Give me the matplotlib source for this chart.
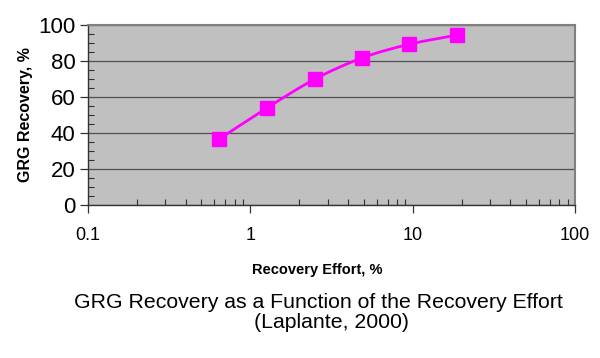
import numpy as np
import matplotlib.pyplot as plt
from matplotlib.path import Path
from matplotlib.patches import PathPatch
from matplotlib.ticker import LogLocator, NullFormatter, MultipleLocator

plt.rcParams['font.family'] = ['Liberation Sans', 'DejaVu Sans']

# data
effort = [0.64, 1.27, 2.5, 4.9, 9.5, 18.7]
recovery = [36.5, 54.0, 70.0, 81.8, 89.3, 94.4]
x_ticks = [0.1, 1, 10, 100]
x_tick_labels = ['0.1', '1', '10', '100']
y_ticks = [0, 20, 40, 60, 80, 100]


def smooth_path(xs, ys):
    # excel-style smoothed line: catmull-rom segments as cubic beziers, in log-x space
    lx = np.log10(xs)
    pts = np.column_stack([lx, ys])
    verts = [pts[0]]
    codes = [Path.MOVETO]
    n = len(pts)
    for i in range(n - 1):
        p0 = pts[max(i - 1, 0)]
        p1 = pts[i]
        p2 = pts[i + 1]
        p3 = pts[min(i + 2, n - 1)]
        c1 = p1 + (p2 - p0) / 6.0
        c2 = p2 - (p3 - p1) / 6.0
        verts += [c1, c2, p2]
        codes += [Path.CURVE4] * 3
    verts = np.array(verts)
    verts[:, 0] = 10 ** verts[:, 0]
    return Path(verts, codes)


fig = plt.figure(figsize=(6.0, 3.58), dpi=100)
ax = fig.add_axes([0.1467, 0.4274, 0.8116, 0.5026])
ax.set_facecolor('#c0c0c0')

ax.set_xscale('log')
ax.set_xlim(0.1, 100)
ax.set_ylim(0, 100)

ax.add_patch(PathPatch(smooth_path(effort, recovery), facecolor='none',
                       edgecolor='#ff00ff', lw=2, transform=ax.transData, zorder=3))
ax.plot(effort, recovery, ls='none', marker='s', ms=10,
        mec='#ff00ff', mfc='#ff00ff', zorder=4, clip_on=False)

ax.set_xticks(x_ticks)
ax.set_xticklabels(x_tick_labels)
ax.xaxis.set_minor_locator(LogLocator(base=10, subs=np.arange(2, 10)))
ax.xaxis.set_minor_formatter(NullFormatter())
ax.set_yticks(y_ticks)
ax.yaxis.set_minor_locator(MultipleLocator(5))

ax.grid(axis='y', which='major', color='#505050', lw=0.9)
ax.set_axisbelow(True)

ax.tick_params(which='major', direction='out', length=6, width=0.9,
               color='#333333', pad=4)
ax.tick_params(axis='y', which='major', labelsize=16, pad=3)
ax.tick_params(axis='x', which='major', labelsize=13, pad=10)
ax.tick_params(which='minor', direction='in', length=4, width=0.8, color='#333333')

for side in ['left', 'bottom']:
    ax.spines[side].set_color('#333333')
    ax.spines[side].set_linewidth(1.0)
for side in ['top', 'right']:
    ax.spines[side].set_color('#808080')
    ax.spines[side].set_linewidth(1.5)

ax.set_ylabel('GRG Recovery, %', fontsize=11.5, fontweight='bold', labelpad=4)

# axis title and caption sit a little left of the axes centre, as in the source
fig.text(0.528, 0.246, 'Recovery Effort, %', ha='center', va='center',
         fontsize=10.5, fontweight='bold')
fig.text(0.53, 0.155, 'GRG Recovery as a Function of the Recovery Effort',
         ha='center', va='center', fontsize=15.3)
fig.text(0.553, 0.098, '(Laplante, 2000)', ha='center', va='center', fontsize=15.3)

fig.savefig('out.png', dpi=100)
